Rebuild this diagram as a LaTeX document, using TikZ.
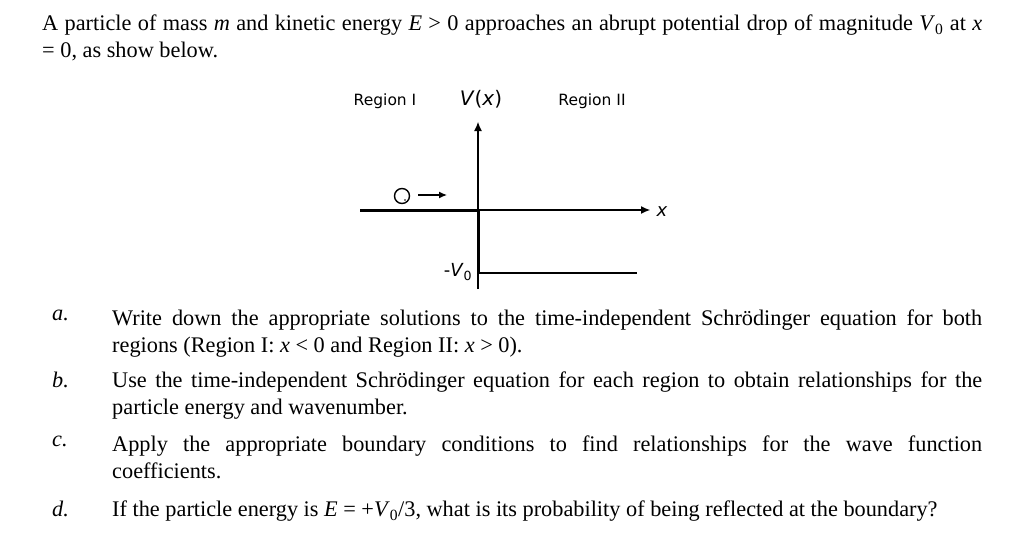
\documentclass[tikz,border=0pt]{standalone}
\usepackage{fontspec}
\setmainfont{Liberation Serif}
\newfontfamily\lblfont{DejaVu Sans}
\usetikzlibrary{arrows.meta}
\newcommand{\mi}[1]{\textit{#1}}
\begin{document}
\begin{tikzpicture}[x=1pt,y=-1pt,
  para/.style={anchor=north west,inner sep=0pt,align=justify,font=\fontsize{22.3}{27}\selectfont},
  lbl/.style={font=\lblfont\fontsize{15.5}{17}\selectfont,inner sep=0pt},
  thick line/.style={line width=3pt},
  axis/.style={line width=1.1pt,-{Latex[length=9pt,width=8pt]}}]
\useasboundingbox (0,0) rectangle (1024,551);
\node[para,text width=940pt] (intro) at (42,15) {A particle of mass \mi{m} and kinetic energy \mi{E} > 0 approaches an abrupt potential drop of magnitude \mi{V}\textsubscript{0} at \mi{x}\linebreak = 0, as show below.};
% diagram
\coordinate (o) at (478,210);
\coordinate (vtop) at (478,122);
\coordinate (vbot) at (478,289);
\coordinate (xend) at (650,210);
\coordinate (left) at (360,210);
\coordinate (low) at (478,273);
\coordinate (lowend) at (637,273);
\draw[axis] (vbot) -- (vtop);
\draw[axis] (o) -- (xend);
\draw[thick line] (left) -- (o) -- (low);
\draw[line width=2.3pt] (low) -- (lowend);
\node[lbl] (rI) at (385,101) {Region I};
\node[lbl,font=\lblfont\fontsize{20}{22}\selectfont] (vx) at (481,99) {\textit{V}(\textit{x})};
\node[lbl] (rII) at (592,101) {Region II};
\node[lbl,font=\lblfont\fontsize{18}{20}\selectfont] (xl) at (662,212) {\textit{x}};
\node[lbl,font=\lblfont\fontsize{18}{20}\selectfont] (v0) at (458,272) {-\textit{V}\textsubscript{0}};
\node[draw,circle,line width=1.4pt,minimum size=15pt,inner sep=0pt] (p) at (402,196) {};
\fill (405,200) circle (0.9pt);
\coordinate (pa) at (418,195);
\coordinate (pb) at (447,195);
\draw[line width=1.3pt,-{Latex[length=8pt,width=7pt]}] (pa) -- (pb);
% questions
\foreach \y/\l/\t in {310/a./{Write down the appropriate solutions to the time-independent Schr\"odinger equation for both\linebreak regions (Region I: \mi{x} < 0 and Region II: \mi{x} > 0).},
 372/b./{Use the time-independent Schr\"odinger equation for each region to obtain relationships for the\linebreak particle energy and wavenumber.},
 436/c./{Apply the appropriate boundary conditions to find relationships for the wave function\linebreak coefficients.},
 501/d./{If the particle energy is \mi{E} = +\mi{V}\textsubscript{0}/3, what is its probability of being reflected at the boundary?}}{
 \node[para] (l\l) at (52,\y) {\textit{\l}};
 \node[para,text width=870pt] (q\l) at (112,\y) {\t};
}
\end{tikzpicture}
\end{document}
